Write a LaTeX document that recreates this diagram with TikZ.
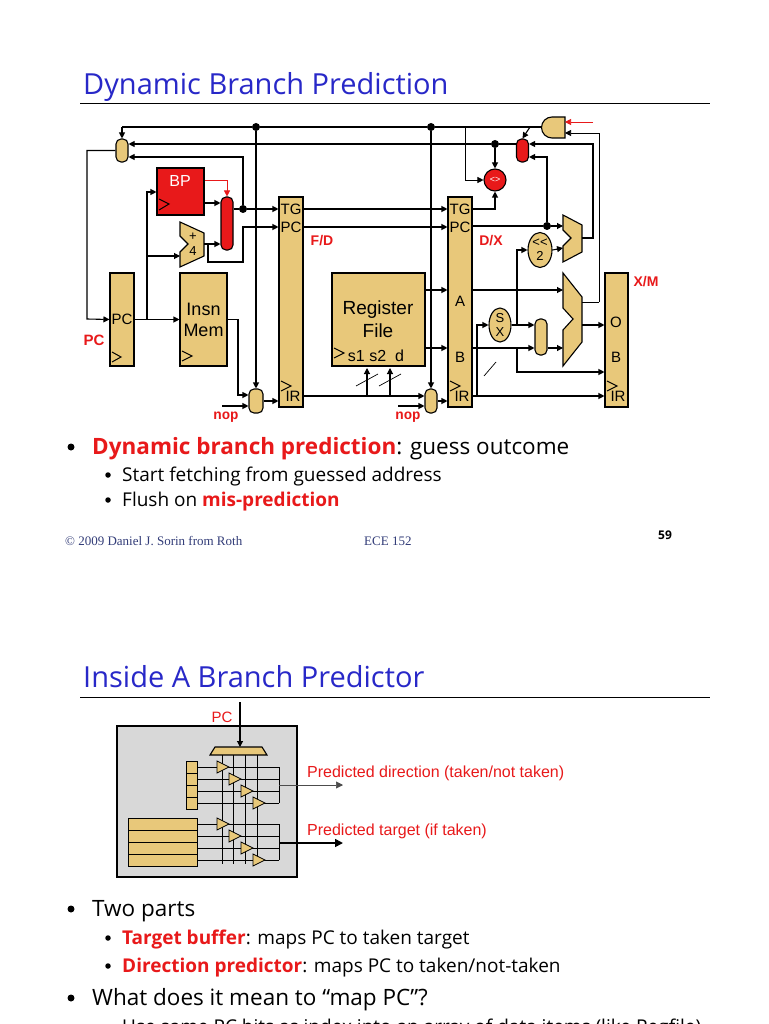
\documentclass[tikz,border=0pt]{standalone}
\usepackage{fontspec}
\setmainfont{Open Sans}
\newfontfamily\arialf{Liberation Sans}
\newfontfamily\monof{Liberation Mono}
\newfontfamily\timesf{Liberation Serif}
\usetikzlibrary{arrows.meta,shapes.geometric}
\definecolor{tan}{RGB}{232,200,122}
\definecolor{rd}{RGB}{232,25,26}
\definecolor{ttl}{RGB}{40,40,200}
\definecolor{gbox}{RGB}{216,216,216}
\definecolor{foot}{RGB}{50,60,120}
\begin{document}
\begin{tikzpicture}[x=1pt,y=-1pt,
  w/.style={line width=1.1pt},
  a/.style={w,-{Triangle[length=6pt,width=6pt]}},
  reg/.style={draw,line width=1.1pt,fill=tan,inner sep=0pt,font=\arialf\fontsize{15}{15}\selectfont},
  mux/.style={draw,line width=1.1pt,fill=tan,rounded corners=5pt,inner sep=0pt,minimum width=12pt},
  rmux/.style={mux,fill=rd},
  dot/.style={circle,fill=black,inner sep=0pt,minimum size=8pt},
  lbl/.style={font=\arialf\fontsize{15}{15}\selectfont,inner sep=0pt},
  rl/.style={font=\arialf\bfseries\fontsize{14}{14}\selectfont,text=rd,inner sep=0pt},
  nop/.style={font=\monof\bfseries\fontsize{14}{14}\selectfont,text=rd,inner sep=0pt},
  ttlf/.style={font=\fontsize{29}{29}\selectfont,text=ttl,anchor=base west,inner sep=0pt},
  b1/.style={font=\fontsize{22.5}{22.5}\selectfont,anchor=base west,inner sep=0pt},
  b2/.style={font=\fontsize{19}{19}\selectfont,anchor=base west,inner sep=0pt},
  bul/.style={circle,fill=black,inner sep=0pt,minimum size=7pt},
  bul2/.style={circle,fill=black,inner sep=0pt,minimum size=5.5pt},
  clk/.style={line width=1pt}]
\useasboundingbox (0,0) rectangle (768,1024);
\fill[white] (0,0) rectangle (768,1024);
% ===== Title 1
\node[ttlf] (t1) at (83,95) {Dynamic Branch Prediction};
\draw[line width=1pt] (80,104) -- (710,104);
% ===== registers / blocks
\node[reg,minimum width=24pt,minimum height=93pt] (pc) at (122,319.5) {};
\node[lbl] at (122,319) {PC};
\draw[clk] (112,352) -- (121,357) -- (112,362);
\node[reg,fill=rd,minimum width=47pt,minimum height=47pt] (bp) at (180.5,191.5) {};
\node[lbl,text=white,font=\arialf\fontsize{16}{16}\selectfont] at (180,181) {BP};
\draw[clk] (159,199) -- (169,204) -- (159,210);
\node[reg,minimum width=47pt,minimum height=93pt,align=center,font=\arialf\fontsize{18}{21}\selectfont] (im) at (203.5,319.5) {Insn\\Mem};
\draw[clk] (182,351) -- (192,356) -- (182,361);
\node[reg,minimum width=24pt,minimum height=210pt] (fd) at (291,302) {};
\node[lbl] at (291,209) {TG};
\node[lbl] at (291,227) {PC};
\node[lbl] at (293,396) {IR};
\draw[clk] (281,381) -- (291,386) -- (281,391);
\node[rl] at (322,241) {F/D};
\node[reg,minimum width=93pt,minimum height=93pt] (rf) at (378.5,319.5) {};
\node[lbl,align=center,font=\arialf\fontsize{19}{23}\selectfont] at (378,319) {Register\\File};
\node[lbl,font=\arialf\fontsize{16}{16}\selectfont] at (376,356) {s1 s2\ \ d};
\draw[clk] (334,348) -- (344,353) -- (334,358);
\node[reg,minimum width=24pt,minimum height=210pt] (dx) at (460,302) {};
\node[lbl] at (460,209) {TG};
\node[lbl] at (460,227) {PC};
\node[lbl] at (460,301) {A};
\node[lbl] at (460,357) {B};
\node[lbl] at (462,396) {IR};
\draw[clk] (450,381) -- (460,386) -- (450,391);
\node[rl] at (491,241) {D/X};
\node[reg,minimum width=23pt,minimum height=134pt] (xm) at (616.5,340) {};
\node[lbl] at (616,322) {O};
\node[lbl] at (616,357) {B};
\node[lbl] at (618,396) {IR};
\draw[clk] (607,381) -- (617,386) -- (607,391);
\node[rl] at (646,282) {X/M};
\node[rl,font=\arialf\bfseries\fontsize{15}{15}\selectfont] at (94,340) {PC};
% muxes
\node[mux,minimum height=23pt] (m1) at (122,150.5) {};
\node[rmux,minimum height=53pt] (m2) at (227,223.5) {};
\node[mux,minimum height=24pt,minimum width=14pt] (n1) at (256,401) {};
\node[mux,minimum height=24pt,minimum width=12pt] (n2) at (431,401) {};
\node[rmux,minimum height=23pt] (m3) at (522.5,150.5) {};
\node[mux,minimum height=36pt] (m4) at (541,337) {};
\node[nop] at (226,417) {nop};
\node[nop] at (408,417) {nop};
% adders / ALU
\draw[w,fill=tan] (180,222) -- (204,233) -- (204,256) -- (180,267) -- (180,252) -- (188,244) -- (180,236) -- cycle;
\node[lbl,align=center,font=\arialf\fontsize{13}{15}\selectfont] (p4) at (193,244) {+\\4};
\draw[w,fill=tan] (563,215) -- (582,225) -- (582,252) -- (563,262) -- (563,246) -- (571,238) -- (563,230) -- cycle;
\draw[w,fill=tan] (563,273) -- (582,297) -- (582,342) -- (563,366) -- (563,330) -- (573,319) -- (563,308) -- cycle;
% ellipses
\node[draw,w,fill=rd,circle,minimum size=22pt,inner sep=0pt,text=white,font=\arialf\fontsize{9}{9}\selectfont] (cmp) at (495,180) {<>};
\node[draw,w,fill=tan,ellipse,minimum width=24pt,minimum height=35pt,inner sep=0pt,align=center,font=\arialf\fontsize{13}{14}\selectfont] (sh) at (540,250) {<<\\2};
\node[draw,w,fill=tan,ellipse,minimum width=22pt,minimum height=34pt,inner sep=0pt,align=center,font=\arialf\fontsize{13}{14}\selectfont] (sx) at (500,325) {S\\X};
% AND gate
\draw[w,fill=tan] (565,117) -- (552,117) arc(270:90:10.5) -- (565,138) -- cycle;
\coordinate (and) at (541.5,127);
% dots
\node[dot] (d1) at (256,127) {};
\node[dot] (d2) at (431,127) {};
\node[dot] (d3) at (243,209) {};
\node[dot] (d4) at (495,144) {};
\node[dot] (d5) at (547,226) {};
% ===== wires
\draw[w] (and) -- (d2) -- (d1) -- (122,127);
\draw[a] (122,127) -- (m1.north);
\draw[a] (d1) -- (n1.north);
\draw[a] (d2) -- (n2.north);
\draw[a] (m3.west |- 0,144) -- (d4) -- (m1.east |- 0,144);
\draw[a] (d3) |- (m1.east |- 0,157);
\draw[a] (m1.west) -| (87,319) -- (pc.west);
\draw[a] (pc.east) -- (im.west |- pc.east);
\draw[a] (147,319) |- (bp.west |- 0,192);
\draw[a] (147,256) -- (180,256);
\draw[a] (bp.east |- 0,203) -- (m2.west |- 0,203);
\draw[a] (204,244) -- (m2.west |- 0,244);
\draw[a,rd,line width=0.7pt] (bp.east |- 0,180) -| (m2.north);
\draw[w] (m2.east |- d3) -- (d3);
\draw[a] (d3) -- (fd.west |- d3);
\draw[a] (208,244) |- (243,262) |- (fd.west |- 0,227);
\draw[a] (im.east) -| (238,395) -- (n1.west |- 0,395);
\draw[a] (222,406) -- (n1.west |- 0,406);
\draw[a] (n1.east) -- (fd.west |- n1.east);
% F/D -> D/X
\draw[a] (fd.east |- 0,209) -- (dx.west |- 0,209);
\draw[a] (fd.east |- 0,227) -- (dx.west |- 0,227);
\draw[a] (fd.east |- 0,396) -- (n2.west |- 0,396);
\draw[a] (398,406) -- (n2.west |- 0,406);
\draw[a] (367,396) -- (367,368);
\draw[a] (390,396) -- (390,368);
\draw[line width=0.7pt] (356,386) -- (378,374);
\draw[line width=0.7pt] (379,386) -- (401,374);
\draw[a] (n2.east) -- (dx.west |- n2.east);
\draw[a] (rf.east |- 0,290) -- (dx.west |- 0,290);
\draw[a] (rf.east |- 0,348) -- (dx.west |- 0,348);
% D/X outputs
\draw[a,line width=0.7pt] (d2) -| (465,180) -- (cmp.west);
\draw[a] (d4) -- (cmp.north);
\draw[a] (dx.east |- 0,209) -| (cmp.south);
\draw[w] (dx.east |- 0,226) -- (d5);
\draw[a] (d5) -- (563,226);
\draw[a] (d5) |- (m3.east |- 0,157);
\draw[a] (sh.east) -- (563,248);
\draw[a] (582,238) -| (593,144) -- (m3.east |- 0,144);
\draw[a] (530,127) -- (m3.north);
\draw[a,rd,line width=0.7pt] (593,122) -- (565,122);
\draw[a,line width=0.7pt] (599,302) |- (565,133);
\draw[line width=0.7pt] (582,302) -- (599,302);
\draw[a] (dx.east |- 0,290) -- (563,290);
\draw[a] (dx.east |- 0,396) -- (xm.west |- 0,396);
\draw[a] (477,396) |- (sx.west);
\draw[line width=0.7pt] (484,376) -- (496,362);
\draw[a] (sx.east) -- (m4.west |- sx.east);
\draw[a] (517,325) |- (sh.west);
\draw[a] (dx.east |- 0,348) -- (m4.west |- 0,348);
\draw[a] (517,348) |- (xm.west |- 0,372);
\draw[a] (m4.east |- 0,348) -- (563,348);
\draw[a] (582,325) -- (xm.west |- 0,325);
% ===== bullets 1
\node[bul] at (71,447) {};
\node[b1] at (92,454) {\textcolor{rd}{\bfseries Dynamic branch prediction}: guess outcome};
\node[bul2] at (108,475) {};
\node[b2] at (122,481) {Start fetching from guessed address};
\node[bul2] at (108,500) {};
\node[b2] at (122,506) {Flush on \textcolor{rd}{\bfseries mis-prediction}};
\node[anchor=base west,inner sep=0pt,text=foot,font=\timesf\fontsize{13}{13}\selectfont] at (65,545) {© 2009 Daniel J. Sorin from Roth};
\node[anchor=base west,inner sep=0pt,text=foot,font=\timesf\fontsize{13}{13}\selectfont] at (364,545) {ECE 152};
\node[anchor=base west,inner sep=0pt,font=\bfseries\fontsize{12}{12}\selectfont] at (658,539) {59};
% ===== Title 2
\node[ttlf] (t2) at (83,687) {Inside A Branch Predictor};
\draw[line width=1pt] (80,697) -- (710,697);
% ===== predictor
\draw[line width=1.3pt,fill=gbox] (117,726) rectangle (297,877);
\node[lbl,text=rd,font=\arialf\fontsize{15}{15}\selectfont] at (222,717) {PC};
\coordinate (pcin) at (240,702);
\draw[w,fill=tan] (215,747) -- (262,747) -- (267,755) -- (210,755) -- cycle;
\draw[a] (pcin) -- (240,747);
\foreach \x in {222,233,245,257} \draw[line width=0.8pt] (\x,755) -- (\x,864);
\foreach \i/\y in {0/767,1/779,2/791,3/803} {
  \draw[line width=0.8pt] (197,\y) -- (279,\y);
  \pgfmathsetmacro\tx{217+\i*12}
  \draw[line width=0.8pt,fill=tan] (\tx,\y-6) -- (\tx+12,\y) -- (\tx,\y+6) -- cycle;
}
\foreach \i/\y in {0/824,1/836,2/848,3/860} {
  \draw[line width=0.8pt] (197,\y) -- (279,\y);
  \pgfmathsetmacro\tx{217+\i*12}
  \draw[line width=0.8pt,fill=tan] (\tx,\y-6) -- (\tx+12,\y) -- (\tx,\y+6) -- cycle;
}
\draw[line width=0.8pt] (279,767) -- (279,803);
\draw[line width=0.8pt] (279,824) -- (279,860);
\foreach \y in {761,773,785,797} \draw[line width=1pt,fill=tan] (186,\y) rectangle (197,\y+12);
\foreach \y in {818,830,842,854} \draw[line width=1pt,fill=tan] (128,\y) rectangle (197,\y+12);
\coordinate (o1) at (343,785);
\coordinate (o2) at (343,843);
\draw[-{Triangle[length=7pt,width=7pt]},line width=0.6pt,black!70] (279,785) -- (o1);
\draw[-{Triangle[length=8pt,width=8pt]},line width=1.6pt] (279,843) -- (o2);
\node[anchor=base west,inner sep=0pt,text=rd,font=\arialf\fontsize{16}{16}\selectfont] at (307,777) {Predicted direction (taken/not taken)};
\node[anchor=base west,inner sep=0pt,text=rd,font=\arialf\fontsize{16}{16}\selectfont] at (307,835) {Predicted target (if taken)};
% ===== bullets 2
\node[bul] at (71,909) {};
\node[b1] at (92,916) {Two parts};
\node[bul2] at (108,938) {};
\node[b2] at (122,944) {\textcolor{rd}{\bfseries Target buffer}: maps PC to taken target};
\node[bul2] at (108,966) {};
\node[b2] at (122,972) {\textcolor{rd}{\bfseries Direction predictor}: maps PC to taken/not-taken};
\node[bul] at (71,998) {};
\node[b1] at (92,1005) {What does it mean to “map PC”?};
\node[bul2] at (108,1027) {};
\node[b2] at (122,1033) {Use same PC bits as index into an array of data items (like Regfile)};
\end{tikzpicture}
\end{document}
